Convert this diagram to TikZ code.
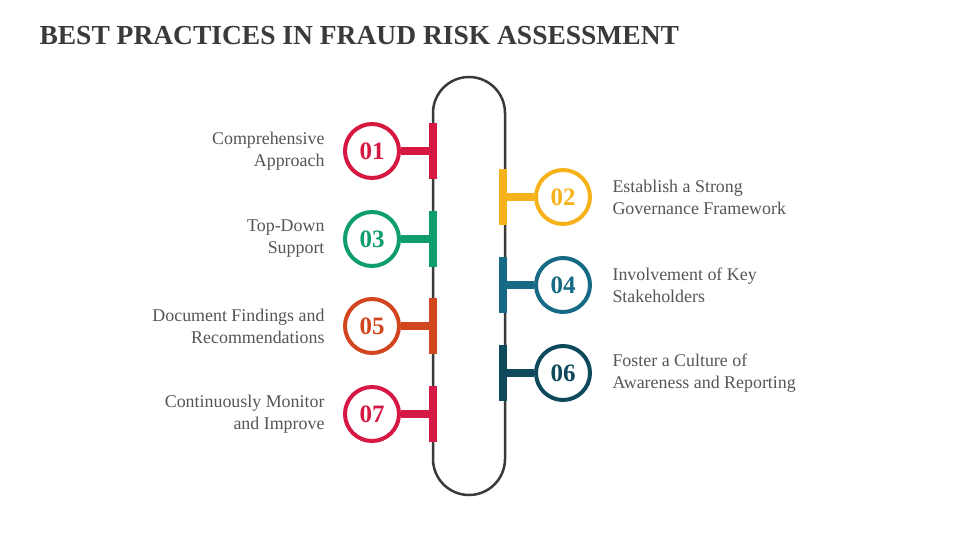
\documentclass[tikz,border=0pt]{standalone}
\usepackage{fontspec}
\setmainfont{Liberation Serif}
\definecolor{cA}{HTML}{D6173F}
\definecolor{cB}{HTML}{F6B21B}
\definecolor{cC}{HTML}{0E9D6E}
\definecolor{cD}{HTML}{166A86}
\definecolor{cE}{HTML}{D1461F}
\definecolor{cF}{HTML}{0E4A5C}
\definecolor{cG}{HTML}{D61845}
\definecolor{txt}{HTML}{555555}
\definecolor{ttl}{HTML}{3A3A3A}
\begin{document}
\begin{tikzpicture}[x=1pt,y=-1pt,
  num/.style={circle,draw=#1,line width=4pt,minimum size=54pt,inner sep=0pt,text=#1,font=\bfseries\fontsize{25}{25}\selectfont},
  lbl/.style={text=txt,font=\fontsize{17.9}{22}\selectfont},
  lblL/.style={lbl,anchor=east,align=right},
  lblR/.style={lbl,anchor=west,align=left}]
\useasboundingbox (0,0) rectangle (960,540);
\node[anchor=west,text=ttl,font=\bfseries\fontsize{27.5}{27.5}\selectfont] (title) at (36,36) {BEST PRACTICES IN FRAUD RISK ASSESSMENT};
\draw[ttl,line width=2.5pt,rounded corners=36pt] (433,77) rectangle (505,495);
\foreach \n/\c/\y/\t in {01/cA/151/{Comprehensive\\Approach},03/cC/239/{Top-Down\\Support},05/cE/326/{Document Findings and\\Recommendations},07/cG/414/{Continuously Monitor\\and Improve}}{
  \node[num=\c] (n\n) at (372,\y) {\n};
  \fill[\c] (n\n.east) ++(0,-4) rectangle (433,\y+4);
  \fill[\c] (429,\y-28) rectangle (437,\y+28);
  \node[lblL] (l\n) at (328,\y) {\t};
}
\foreach \n/\c/\y/\t in {02/cB/197/{Establish a Strong\\Governance Framework},04/cD/285/{Involvement of Key\\Stakeholders},06/cF/373/{Foster a Culture of\\Awareness and Reporting}}{
  \node[num=\c] (n\n) at (563,\y) {\n};
  \fill[\c] (505,\y-4) rectangle (n\n.west |- 0,\y+4);
  \fill[\c] (499,\y-28) rectangle (507,\y+28);
  \node[lblR] (l\n) at (609,\y) {\t};
}
\end{tikzpicture}
\end{document}
